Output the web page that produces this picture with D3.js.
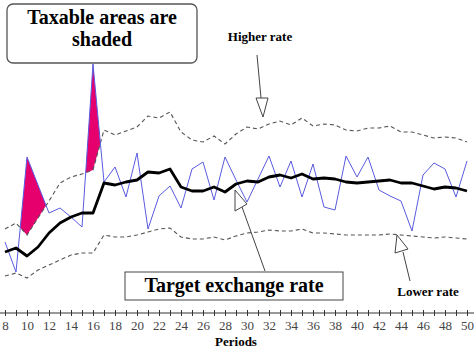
<!DOCTYPE html>
<html>
<head>
<meta charset="utf-8">
<script src="https://cdn.jsdelivr.net/npm/d3@7"></script>
<style>
  html, body { margin: 0; padding: 0; background: #fff; }
  svg { display: block; }
  svg text { font-family: "Liberation Serif", "Times New Roman", serif; }
</style>
</head>
<body>
<svg id="chart" width="474" height="351"></svg>
<script>
// 数据：周期 8..50
const periods = d3.range(8, 51);

// 实际汇率（蓝线）
const actualRate = [78, 48, 163, 135, 107, 112, 103, 93, 256, 138, 153, 123, 167, 91, 124, 134, 112, 151, 158, 120,
  163, 140, 118, 141, 164, 133, 159, 123, 156, 113, 110, 164, 143, 163, 130, 124, 119, 89, 145, 157, 151, 123, 159];

// 目标汇率（粗黑线）
const targetRate = [68, 72, 64, 73, 87, 97, 103, 107, 107, 137, 135, 138, 140, 148, 147, 151, 133, 129, 129, 133,
  128, 136, 139, 138, 143, 145, 142, 146, 141, 142, 141, 138, 137, 138, 139, 140, 137, 137, 134, 131, 133, 132, 129];

// 上限（虚线）
const higherRate = [91, 97, 85, 102, 119, 137, 143, 146, 150, 190, 185, 189, 193, 204, 202, 208, 188, 180, 178, 184,
  176, 186, 193, 191, 196, 199, 195, 202, 194, 196, 195, 190, 189, 192, 192, 194, 188, 188, 185, 182, 183, 182, 178];

// 下限（虚线）
const lowerRate = [44, 47, 42, 50, 55, 60, 65, 67, 67, 85, 83, 83, 85, 88, 91, 92, 83, 81, 81, 83,
  80, 84, 87, 88, 90, 89, 89, 91, 87, 87, 86, 85, 85, 85, 85, 86, 85, 84, 83, 82, 83, 82, 81];

const rows = periods.map((p, i) => ({
  p, actual: actualRate[i], target: targetRate[i], high: higherRate[i], low: lowerRate[i]
}));

// 在蓝线与上限的交点处插入点，用于绘制应税区域
const taxRows = [];
rows.forEach((d, i) => {
  taxRows.push(d);
  const n = rows[i + 1];
  if (!n) return;
  const a = d.actual - d.high, b = n.actual - n.high;
  if (a * b < 0) {
    const t = a / (a - b);
    const v = d.high + t * (n.high - d.high);
    taxRows.push({ p: d.p + t, actual: v, high: v });
  }
});

const svg = d3.select("#chart");
const serif = "'Liberation Serif', 'Times New Roman', serif";

const x = d3.scaleLinear().domain([8, 50]).range([5, 467]);
const y = d3.scaleLinear().domain([0, 320]).range([320, 0]);

// 坐标轴
const axisY = 313;
svg.append("line")
  .attr("x1", 0).attr("x2", 474)
  .attr("y1", axisY).attr("y2", axisY)
  .attr("stroke", "#333").attr("stroke-width", 1);

const axis = svg.append("g")
  .attr("transform", `translate(0,${axisY})`)
  .call(d3.axisBottom(x)
    .tickValues(periods)
    .tickSize(3)
    .tickFormat(d => d % 2 === 0 ? d : ""));
axis.select(".domain").remove();
axis.attr("font-family", null);
axis.selectAll(".tick line")
  .attr("y1", -3).attr("y2", 3)
  .attr("stroke", "#333");
axis.selectAll(".tick text")
  .attr("y", 8)
  .style("font-family", serif)
  .attr("font-size", 13)
  .attr("fill", "#444");

svg.append("text")
  .attr("x", 236).attr("y", 346)
  .attr("text-anchor", "middle")
  .style("font-family", serif)
  .attr("font-weight", "bold")
  .attr("font-size", 13)
  .text("Periods");

// 应税区域：蓝线高于上限的部分
svg.append("path")
  .datum(taxRows)
  .attr("d", d3.area()
    .x(d => x(d.p))
    .y0(d => y(d.high))
    .y1(d => y(Math.max(d.actual, d.high))))
  .attr("fill", "#e6006e");

// 上下限虚线
const line = key => d3.line().x(d => x(d.p)).y(d => y(d[key]));
["high", "low"].forEach(k => {
  svg.append("path")
    .datum(rows)
    .attr("d", line(k))
    .attr("fill", "none")
    .attr("stroke", "#555")
    .attr("stroke-width", 1.1)
    .attr("stroke-dasharray", "4,3");
});

// 实际汇率
svg.append("path")
  .datum(rows)
  .attr("d", line("actual"))
  .attr("fill", "none")
  .attr("stroke", "#5a5ae0")
  .attr("stroke-width", 1);

// 目标汇率
svg.append("path")
  .datum(rows)
  .attr("d", line("target"))
  .attr("fill", "none")
  .attr("stroke", "#000")
  .attr("stroke-width", 2.8)
  .attr("stroke-linejoin", "round");

// 注释
const arrow = (x1, y1, x2, y2, head) => {
  svg.append("line")
    .attr("x1", x1).attr("y1", y1).attr("x2", x2).attr("y2", y2)
    .attr("stroke", "#444").attr("stroke-width", 1);
  svg.append("polygon")
    .attr("points", head.map(p => p.join(",")).join(" "))
    .attr("fill", "#fff").attr("stroke", "#444").attr("stroke-width", 1);
};

const label = (tx, ty, str, size) => svg.append("text")
  .attr("x", tx).attr("y", ty)
  .attr("text-anchor", "middle")
  .style("font-family", serif)
  .attr("font-weight", "bold")
  .attr("font-size", size)
  .text(str);

// Taxable areas 框
svg.append("rect")
  .attr("x", 7).attr("y", 4).attr("width", 190).attr("height", 59)
  .attr("rx", 6)
  .attr("fill", "#fff").attr("stroke", "#555").attr("stroke-width", 1.3);
label(102, 24, "Taxable areas are", 20);
label(102, 46, "shaded", 20);

// Higher rate
label(260, 41, "Higher rate", 13);
arrow(257, 55, 261, 98, [[256, 98], [268, 98], [263, 117]]);

// Target exchange rate
arrow(265, 271, 242, 207, [[235, 190], [235, 211], [247, 204]]);
svg.append("rect")
  .attr("x", 125).attr("y", 272).attr("width", 218).attr("height", 28)
  .attr("fill", "#fff").attr("stroke", "#444").attr("stroke-width", 1);
label(234, 292, "Target exchange rate", 20);

// Lower rate
arrow(410, 281, 403, 252, [[397, 235], [395, 253], [408, 249]]);
label(428, 296, "Lower rate", 13);
</script>
</body>
</html>
